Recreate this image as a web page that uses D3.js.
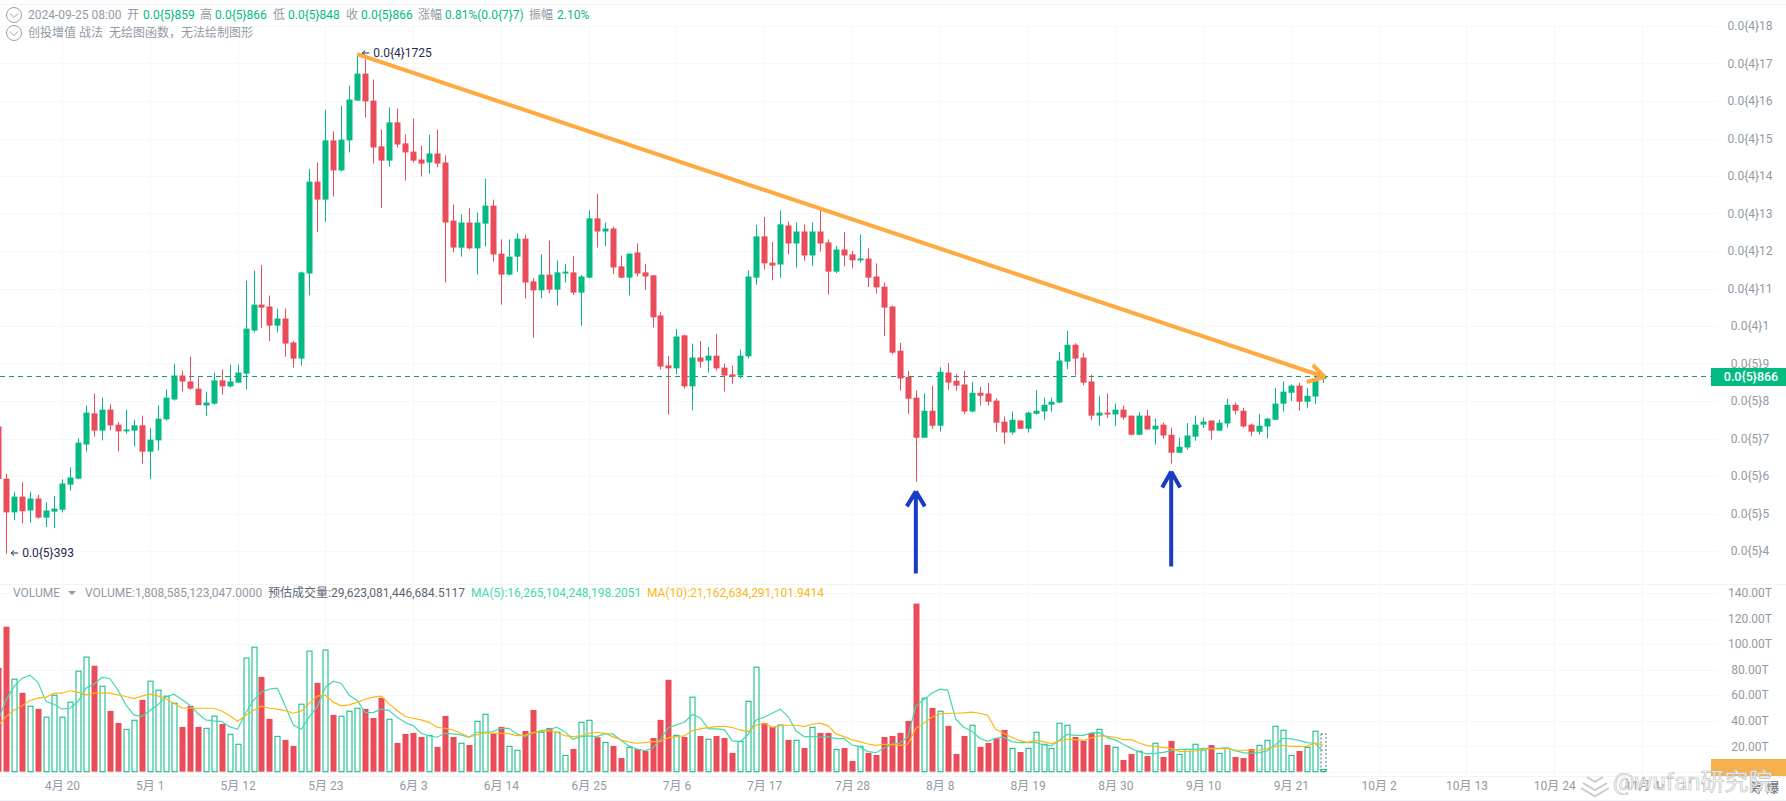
<!DOCTYPE html>
<html>
<head>
<meta charset="utf-8">
<script src="https://cdnjs.cloudflare.com/ajax/libs/d3/7.8.5/d3.min.js"></script>
<style>
  html, body { margin: 0; padding: 0; background: #fff; overflow: hidden; }
  text { font-family: Roboto, "Noto Sans CJK SC", sans-serif; font-size: 12px; }
</style>
</head>
<body>
<svg id="chart" width="1786" height="801"></svg>
<script>
// prices are in units of 0.000001, volumes in trillions, one entry per day from 2024-04-12
const openPrices = [
  7.32,5.93,5.03,5.45,5.08,5.40,4.89,5.05,5.10,5.77,
  5.93,6.84,7.67,7.21,7.77,7.37,7.19,7.21,7.35,6.65,
  6.95,7.51,8.04,8.68,8.52,8.33,7.88,7.93,8.55,8.39,
  8.49,8.73,9.88,10.57,10.52,10.01,10.20,9.56,9.13,11.40,
  13.85,13.37,14.95,14.15,14.95,16.01,16.73,16.01,14.79,14.41,
  15.43,14.87,14.65,14.44,14.36,14.60,14.36,12.81,12.09,12.76,
  12.07,12.73,13.21,11.93,11.37,11.85,12.33,11.19,10.95,11.37,
  10.97,11.40,11.43,10.89,11.29,12.87,12.52,12.60,11.59,11.29,
  11.96,11.43,11.35,10.28,8.95,8.87,9.75,8.39,9.16,9.08,
  9.21,8.89,8.71,8.68,9.19,11.29,12.39,11.69,11.64,12.68,
  12.20,12.52,11.88,12.52,12.23,11.45,12.04,11.91,11.75,11.80,
  11.32,11.05,10.52,9.34,8.64,8.09,7.02,7.74,7.34,8.76,
  8.54,8.44,7.72,8.22,8.20,8.01,7.45,7.16,7.48,7.26,
  7.66,7.72,7.90,7.96,9.05,9.50,9.16,8.52,7.61,7.69,
  7.64,7.77,7.61,7.10,7.61,7.24,7.37,7.10,6.62,6.76,
  7.05,7.37,7.48,7.21,7.40,7.90,7.74,7.37,7.18,7.32,
  7.50,7.93,8.22,8.41,7.98,8.12,8.59
];
const closePrices = [
  5.92,5.03,5.45,5.06,5.40,4.89,5.08,5.13,5.80,5.96,
  6.89,7.69,7.21,7.77,7.35,7.19,7.24,7.35,6.65,6.97,
  7.53,8.09,8.68,8.52,8.33,7.89,7.96,8.55,8.39,8.52,
  8.76,9.93,10.57,10.49,10.01,10.20,9.53,9.13,11.43,13.85,
  13.37,14.95,14.15,14.97,16.04,16.73,15.99,14.76,14.41,15.43,
  14.84,14.63,14.41,14.33,14.60,14.33,12.76,12.09,12.76,12.07,
  12.76,13.21,11.91,11.37,11.85,12.33,11.16,10.95,11.37,10.97,
  11.43,11.45,10.89,11.32,12.87,12.52,12.60,11.56,11.29,11.93,
  11.40,11.32,10.23,8.92,8.87,9.72,8.39,9.16,9.05,9.21,
  8.87,8.68,8.65,9.21,11.32,12.39,11.67,11.61,12.71,12.20,
  12.52,11.88,12.52,12.20,11.45,12.04,11.88,11.75,11.80,11.29,
  11.03,10.49,9.29,8.60,8.06,7.02,7.74,7.34,8.78,8.49,
  8.41,7.72,8.22,8.14,7.98,7.42,7.16,7.50,7.26,7.69,
  7.74,7.90,7.98,9.08,9.50,9.13,8.49,7.61,7.69,7.64,
  7.77,7.56,7.10,7.61,7.24,7.34,7.08,6.62,6.78,7.08,
  7.37,7.45,7.21,7.42,7.90,7.74,7.32,7.18,7.34,7.53,
  7.93,8.25,8.41,7.98,8.14,8.59,8.66
];
const highPrices = [
  7.32,6.06,5.58,5.83,5.58,5.50,5.30,5.47,5.91,6.23,
  7.00,7.88,8.20,8.09,7.91,7.44,7.77,7.50,7.61,7.28,
  7.88,8.31,8.99,8.81,9.18,8.63,8.25,8.76,8.84,8.97,
  8.97,11.21,11.48,11.63,10.81,10.46,10.47,9.60,11.45,14.19,
  14.35,15.77,15.19,15.87,16.41,17.25,17.11,16.57,15.24,15.83,
  15.80,15.11,15.53,14.81,15.10,15.24,14.55,13.24,12.97,13.14,
  13.02,13.92,13.37,12.31,12.31,12.47,12.44,11.27,11.91,12.28,
  11.75,11.66,11.86,11.36,13.08,13.52,12.76,12.65,11.88,11.93,
  12.20,11.66,11.36,10.38,9.20,9.92,9.77,9.53,9.60,9.44,
  9.79,9.00,8.95,9.37,11.48,12.70,12.91,12.24,13.08,12.79,
  12.76,12.71,12.76,13.12,12.31,12.14,12.51,12.00,12.44,12.07,
  11.67,11.16,10.55,9.55,8.80,8.28,8.20,8.41,8.90,9.01,
  8.72,8.80,8.51,8.38,8.48,8.07,7.59,7.72,7.48,7.72,
  8.29,8.09,8.09,9.31,9.87,9.54,9.28,8.70,8.14,8.20,
  7.93,7.88,7.61,7.70,7.77,7.53,7.42,7.29,7.02,7.41,
  7.61,7.56,7.48,7.50,8.06,7.96,7.82,7.40,7.66,7.55,
  8.35,8.52,8.44,8.49,8.35,8.64,8.66
];
const lowPrices = [
  5.92,3.93,4.82,4.74,4.75,4.86,4.64,4.61,5.03,5.61,
  5.91,6.65,7.05,6.95,7.22,6.66,7.13,6.79,6.33,5.92,
  6.68,7.48,8.01,8.26,8.30,7.89,7.61,7.90,8.17,8.36,
  8.49,8.31,9.83,9.95,9.60,9.83,9.18,8.89,8.95,10.82,
  12.51,12.78,13.45,14.12,14.63,16.01,15.57,14.33,13.15,14.25,
  14.76,13.88,14.36,13.99,14.07,14.23,11.16,11.97,11.85,12.04,
  11.37,12.12,11.72,10.57,11.35,11.45,10.73,9.69,10.74,10.87,
  10.55,11.16,10.83,10.01,11.27,12.09,12.13,11.39,11.27,10.82,
  11.32,10.97,9.96,8.84,7.64,8.71,8.33,7.75,8.89,8.76,
  8.81,8.25,8.46,8.60,9.13,11.10,11.51,11.22,11.29,11.91,
  11.56,11.74,11.60,11.99,10.84,11.41,11.59,11.54,11.69,11.04,
  10.87,9.73,9.24,8.28,7.66,5.85,7.02,7.26,7.19,8.30,
  8.27,7.65,7.70,7.88,7.88,7.18,6.86,7.10,7.26,7.16,
  7.64,7.50,7.72,7.94,8.85,8.68,8.42,7.50,7.34,7.55,
  7.34,7.50,7.08,7.08,7.24,6.84,7.00,6.33,6.62,6.70,
  6.94,7.28,6.97,7.21,7.29,7.64,7.29,7.06,7.10,7.00,
  7.50,7.72,8.00,7.74,7.82,7.92,8.48
];
const volumes = [
  81.4,113.6,72.5,61.8,51.3,49.2,42.7,59.9,42.7,54.5,
  78.8,89.8,83,67,47.6,38.2,33.2,40.3,56.3,70.9,
  63.9,59.2,53.7,35.1,51.6,35.1,34,43.5,37.4,29.3,
  21.5,89,97.6,74.3,41.4,27.7,24.9,20.2,52.9,94.5,
  69.6,95.3,44.5,43.5,47.4,49.7,49.2,42.1,57.9,41.1,
  22.5,29.6,30.4,27.2,28.5,19.4,43.7,27.2,22.3,20.9,
  39.5,45,29.6,35.1,19.9,16.8,31.9,48.4,30.9,34.3,
  30.9,12.8,17.8,38.7,40.3,27,23,20.2,10.7,19.1,
  17.8,16.2,26.4,40.6,72,28.5,27.2,58.4,28,25.4,
  28,26.4,14.7,23.8,55.2,81.9,38.2,35.1,36.6,24.9,
  24.6,18.6,34.8,30.4,30.4,17.5,18.6,8.4,19.9,14.7,
  13.1,27.2,28,30.4,39.8,131.7,57.6,50,47.4,35.9,
  13.9,28,36.4,19.4,22.5,26.2,32.7,18.3,15.4,18.3,
  30.9,21.5,18.3,38,36.4,27.2,24.3,30.4,33.2,20.9,
  19.1,9.2,13.9,16,12.3,22.3,11.5,24.1,13.6,17.5,
  21.5,17,20.9,14.4,18.3,11.5,10.7,17.8,20.7,24.6,
  35.6,32.5,12.8,16.2,19.1,31.7,1.81
];
const ma5 = [
  40.6,56.3,66.8,73.3,75.7,69.9,55,52.9,49,49.7,
  55,65.4,68.8,73.8,73,64.1,52.4,44.5,43.2,47.9,
  52.4,58.4,60.7,56.8,52.1,45.8,40.6,39.8,39.3,35.3,
  33.2,45.8,55.8,62.6,64.7,65.4,51,36.6,33.2,43.2,
  51,66.2,70.9,69.1,59.9,55.8,46.3,46.3,49,47.9,
  42.7,38.5,36.1,30.1,28,27,30.1,29.6,28.8,27,
  30.9,30.9,31.4,34,34,29.6,27.5,30.1,32.2,33.2,
  34.8,31.4,25.4,27.5,28,27.5,29.6,29.6,24.9,20.4,
  17.8,16.5,18.3,25.4,34.6,36.6,38.7,44.8,42.1,33.5,
  33.5,33,24.1,23.6,29.3,40.6,42.7,45.8,49,43.2,
  31.9,27.5,27.5,27,27.5,25.9,25.9,20.9,19.6,15.7,
  14.9,18.3,21.7,22.3,27.5,51.6,56.3,61.5,64.7,63.9,
  41.1,34.8,31.9,26.2,23.8,26.2,27,23.6,22.8,22.8,
  23,20.9,20.4,24.9,29.3,28.5,28.5,30.4,30.6,26.7,
  24.9,21.5,18.3,15.4,13.9,14.4,15.2,16.5,17.5,17.5,
  17.5,18.3,18.3,18.3,18.8,16.5,14.9,14.4,14.9,16.2,
  20.9,26.2,25.7,24.6,22.8,22.3,16.27
];
const ma10 = [
  36.1,43.2,48.4,51.6,55.8,57.6,58.4,61.3,61.5,63.4,
  62.3,60.2,61.5,61.5,61.5,60.2,58.9,57.3,59.2,60.7,
  59.4,57.1,53.7,50,49.7,49.7,49.7,49.7,47.6,44,
  39.5,44,47.9,51.3,49.7,49,47.9,45.8,47.6,53.7,
  59.2,59.9,54.5,51.6,52.4,54.5,56.8,58.4,59.2,53.1,
  47.9,43.2,41.9,40.6,38.7,34.8,34,32.7,30.1,27.2,
  28.8,30.4,30.1,30.1,29.8,28.3,28.5,30.6,31.4,32.2,
  30.9,28.3,27.5,28,30.1,30.9,30.1,27.5,24.9,23.3,
  22.3,22.8,23.6,23.8,26.7,27.5,28,32.2,33.5,34.6,
  35.3,35.6,34.6,32.7,31.4,36.6,38,34.8,36.1,36.4,
  36.4,35.3,37.2,38,35.9,29.6,27.5,24.9,23.6,21.7,
  20.7,21.5,21.2,20.7,21.7,34,38,42.7,45.3,45.8,
  45.8,46.1,46.6,45.8,44.2,33.2,30.1,27,24.3,23,
  24.6,23.6,22,24.1,25.4,25.1,24.6,26.4,28,27.7,
  27,25.1,25.1,22.5,20.4,19.9,19.1,18.1,16,16,
  16.2,17.5,17.8,18.1,18.3,17,16.8,16.8,17,18.1,
  19.4,20.7,19.9,19.9,19.9,22.3,21.16
];
const estimatedVolume = 29.62;
const currentPrice = 8.66;

const priceTicks = [18,17,16,15,14,13,12,11,10,9,8,7,6,5,4];
const priceTickLabels = ["0.0{4}18","0.0{4}17","0.0{4}16","0.0{4}15","0.0{4}14","0.0{4}13","0.0{4}12","0.0{4}11","0.0{4}1","0.0{5}9","0.0{5}8","0.0{5}7","0.0{5}6","0.0{5}5","0.0{5}4"];
const volumeTicks = [140,120,100,80,60,40,20];
const dateTicks = ["2024-04-20","2024-05-01","2024-05-12","2024-05-23","2024-06-03","2024-06-14","2024-06-25","2024-07-06","2024-07-17","2024-07-28","2024-08-08","2024-08-19","2024-08-30","2024-09-10","2024-09-21","2024-10-02","2024-10-13","2024-10-24","2024-11-04"];

const GREEN = "#03BA83", RED = "#EA4C59", GREY = "#929AA5", GRID = "#F6F7F8";

const days = d3.utcDay.range(new Date(Date.UTC(2024, 3, 12)), new Date(Date.UTC(2024, 8, 26)));
const tickDates = dateTicks.map(d => new Date(d + "T00:00:00Z"));

const x = d3.scaleUtc().domain([tickDates[0], tickDates[tickDates.length - 1]]).range([62, 1642]);
const yPrice = d3.scaleLinear().domain([4, 18]).range([551, 26]);
const yVolume = d3.scaleLinear().domain([0, 140]).range([771.7, 593]);

const svg = d3.select("#chart");
const px = i => Math.round(x(days[i]));
const isUp = i => closePrices[i] >= openPrices[i];

// frame lines and grid
const frame = svg.append("g").attr("stroke", "#F3F4F5");
[4.5, 584.5, 776.5, 800.5].forEach(y => {
  frame.append("line").attr("x1", 0).attr("x2", 1786).attr("y1", y).attr("y2", y);
});

const grid = svg.append("g").attr("stroke", GRID);
grid.selectAll(".v").data(tickDates).enter().append("line")
  .attr("x1", d => Math.round(x(d)) + 0.5).attr("x2", d => Math.round(x(d)) + 0.5)
  .attr("y1", 27).attr("y2", 776);
grid.selectAll(".p").data(priceTicks).enter().append("line")
  .attr("x1", 0).attr("x2", 1717)
  .attr("y1", d => Math.round(yPrice(d)) + 0.5).attr("y2", d => Math.round(yPrice(d)) + 0.5);
grid.selectAll(".t").data(volumeTicks).enter().append("line")
  .attr("x1", 0).attr("x2", 1717)
  .attr("y1", d => Math.round(yVolume(d)) + 0.5).attr("y2", d => Math.round(yVolume(d)) + 0.5);
grid.append("line").attr("x1", 0).attr("x2", 1717)
  .attr("y1", Math.round(yVolume(0)) + 0.5).attr("y2", Math.round(yVolume(0)) + 0.5);

// axes
function styleAxis(g) {
  g.select(".domain").remove();
  g.selectAll("text").attr("fill", GREY).style("font-size", "12px");
}

svg.append("g").attr("transform", "translate(1717,0)")
  .call(d3.axisRight(yPrice).tickValues(priceTicks).tickSize(0).tickPadding(33)
    .tickFormat((d, i) => priceTickLabels[i]))
  .call(styleAxis)
  .selectAll("text").attr("text-anchor", "middle");

svg.append("g").attr("transform", "translate(1717,0)")
  .call(d3.axisRight(yVolume).tickValues(volumeTicks).tickSize(0).tickPadding(33)
    .tickFormat(d => d + ".00T"))
  .call(styleAxis)
  .selectAll("text").attr("text-anchor", "middle");

svg.append("g").attr("transform", "translate(0,776)")
  .call(d3.axisBottom(x).tickValues(tickDates).tickSize(0).tickPadding(5)
    .tickFormat(d => (d.getUTCMonth() + 1) + "月 " + d.getUTCDate()))
  .call(styleAxis);

// current price line
svg.append("line")
  .attr("x1", 0).attr("x2", 1711)
  .attr("y1", Math.round(yPrice(currentPrice)) + 0.5).attr("y2", Math.round(yPrice(currentPrice)) + 0.5)
  .attr("stroke", "#0E9F78").attr("stroke-dasharray", "5 4");

// candles
const candles = svg.append("g");
candles.selectAll(".wick").data(days).enter().append("line")
  .attr("x1", (d, i) => px(i) + 0.5).attr("x2", (d, i) => px(i) + 0.5)
  .attr("y1", (d, i) => yPrice(highPrices[i])).attr("y2", (d, i) => yPrice(lowPrices[i]))
  .attr("stroke", (d, i) => isUp(i) ? GREEN : RED);
candles.selectAll(".body").data(days).enter().append("rect")
  .attr("x", (d, i) => px(i) - 2.5).attr("width", 6)
  .attr("y", (d, i) => yPrice(Math.max(openPrices[i], closePrices[i])))
  .attr("height", (d, i) => Math.max(1.5, Math.abs(yPrice(openPrices[i]) - yPrice(closePrices[i]))))
  .attr("fill", (d, i) => isUp(i) ? GREEN : RED);

// volume bars, up days are hollow
const vols = svg.append("g");
const lastIndex = days.length - 1;
vols.append("rect")
  .attr("x", px(lastIndex) - 2).attr("width", 5)
  .attr("y", yVolume(estimatedVolume)).attr("height", yVolume(0) - yVolume(estimatedVolume))
  .attr("fill", "none").attr("stroke", "#5A6270").attr("stroke-dasharray", "2 2");
vols.selectAll(".bar").data(days).enter().append("rect")
  .attr("x", (d, i) => isUp(i) ? px(i) - 2 : px(i) - 2.5)
  .attr("width", (d, i) => isUp(i) ? 5 : 6)
  .attr("y", (d, i) => yVolume(volumes[i]))
  .attr("height", (d, i) => yVolume(0) - yVolume(volumes[i]))
  .attr("fill", (d, i) => isUp(i) ? "none" : RED)
  .attr("stroke", (d, i) => isUp(i) ? GREEN : "none");

const maLine = d3.line().x((d, i) => x(days[i])).y(d => yVolume(d));
svg.append("path").attr("d", maLine(ma5)).attr("fill", "none").attr("stroke", "#45D8B0").attr("stroke-width", 1.2);
svg.append("path").attr("d", maLine(ma10)).attr("fill", "none").attr("stroke", "#FDB714").attr("stroke-width", 1.2);

// price tag
svg.append("rect").attr("x", 1711).attr("y", 368).attr("width", 75).attr("height", 18).attr("fill", GREEN);
svg.append("text").attr("x", 1751).attr("y", 381).attr("text-anchor", "middle")
  .attr("fill", "#fff").style("font-weight", 500).style("font-size", "12.5px").text("0.0{5}866");

// high and low markers
function marker(x0, y0, label) {
  svg.append("path").attr("d", `M${x0 + 7} ${y0}L${x0} ${y0}M${x0 + 3} ${y0 - 2.5}L${x0} ${y0}L${x0 + 3} ${y0 + 2.5}`)
    .attr("fill", "none").attr("stroke", "#1E2C4E");
  svg.append("text").attr("x", x0 + 11).attr("y", y0 + 4).attr("fill", "#1E2C4E").text(label);
}
marker(x(days[45]) + 5, 53, "0.0{4}1725");
marker(x(days[1]) + 5, 553, "0.0{5}393");

// hand drawn arrows
function arrow(x1, y1, x2, y2, wings, color) {
  const p = d3.path();
  p.moveTo(x1, y1);
  p.lineTo(x2, y2);
  wings.forEach(w => {
    p.moveTo(x2 + w[0], y2 + w[1]);
    p.lineTo(x2, y2);
  });
  svg.append("path").attr("d", p.toString()).attr("fill", "none")
    .attr("stroke", color).attr("stroke-width", 4);
}
arrow(x(days[45]), yPrice(17.25), x(days[lastIndex]) + 2, yPrice(8.64), [[-12, -12], [-18, 5]], "#FFA940");
arrow(x(days[115]), yPrice(3.4), x(days[115]), yPrice(5.59), [[-9, 15], [9, 15]], "#1A3CC4");
arrow(x(days[147]), yPrice(3.59), x(days[147]), yPrice(6.12), [[-9, 16], [9, 16]], "#1A3CC4");

// header texts
const headerRow = [
  ["2024-09-25 08:00", 28, GREY], ["开", 127, GREY], ["0.0{5}859", 143, GREEN],
  ["高", 200, GREY], ["0.0{5}866", 215, GREEN], ["低", 273, GREY], ["0.0{5}848", 288, GREEN],
  ["收", 346, GREY], ["0.0{5}866", 361, GREEN], ["涨幅", 418, GREY], ["0.81%(0.0{7}7)", 445, GREEN],
  ["振幅", 529, GREY], ["2.10%", 557, GREEN]
];
svg.selectAll(".head").data(headerRow).enter().append("text")
  .attr("x", d => d[1]).attr("y", 19).attr("fill", d => d[2]).text(d => d[0]);
svg.append("text").attr("x", 28).attr("y", 37).attr("fill", GREY).text("创投增值 战法");
svg.append("text").attr("x", 109).attr("y", 37).attr("fill", GREY).text("无绘图函数，无法绘制图形");

[15, 33].forEach(cy => {
  svg.append("circle").attr("cx", 14).attr("cy", cy).attr("r", 7.5).attr("fill", "none").attr("stroke", "#9AA1AB");
  svg.append("path").attr("d", `M10 ${cy - 1.5}L14 ${cy + 2.5}L18 ${cy - 1.5}`).attr("fill", "none").attr("stroke", "#9AA1AB");
});

const volumeHeader = [
  ["VOLUME", 13, GREY], ["VOLUME:1,808,585,123,047.0000", 85, GREY],
  ["预估成交量:29,623,081,446,684.5117", 268, "#5E6673"],
  ["MA(5):16,265,104,248,198.2051", 471, "#45D8B0"],
  ["MA(10):21,162,634,291,101.9414", 647, "#FDB714"]
];
svg.selectAll(".vh").data(volumeHeader).enter().append("text")
  .attr("x", d => d[1]).attr("y", 597).attr("fill", d => d[2]).text(d => d[0]);
svg.append("path").attr("d", "M68 591L76 591L72 595Z").attr("fill", GREY);

// orange tag and watermark on top of it
svg.append("rect").attr("x", 1711).attr("y", 759).attr("width", 75).attr("height", 17).attr("fill", "#F5B14C");
svg.append("text").attr("x", 1750).attr("y", 792).attr("fill", "#5E6673").style("font-size", "13px").text("筹 爆");

const logo = d3.path();
[[775, 8], [781, 12], [786, 14]].forEach(r => {
  logo.moveTo(1595 - r[1], r[0] + 2);
  logo.lineTo(1595, r[0] + r[1] * 0.6 + 2);
  logo.lineTo(1595 + r[1], r[0] + 2);
});
svg.append("path").attr("d", logo.toString()).attr("fill", "none").attr("stroke", "#C9CCD1").attr("stroke-width", 2);
svg.append("text").attr("x", 1613).attr("y", 790)
  .attr("fill", "#fff").attr("fill-opacity", 0.85).attr("stroke", "#BDBFC3").attr("stroke-width", 0.7)
  .style("font-size", "24px").text("@wufan研究院");
</script>
</body>
</html>
